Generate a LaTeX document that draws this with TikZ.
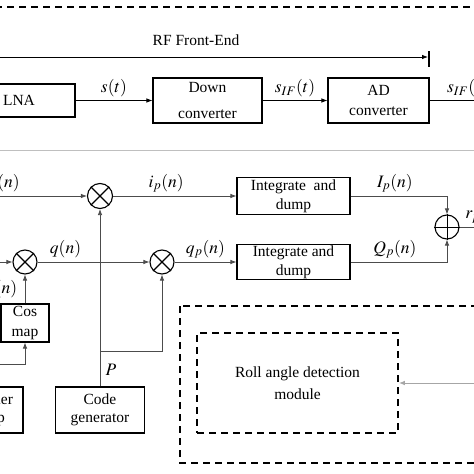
\RequirePackage{fix-cm}
\documentclass[tikz,border=0pt]{standalone}
\usepackage{amsmath}
\usepackage{mathptmx}
\usepackage{fontspec}
\setmainfont{Liberation Serif}
\usetikzlibrary{arrows.meta}

\begin{document}
\begin{tikzpicture}[x=1pt, y=-1pt,
  every node/.style={font=\fontsize{15.5}{19}\selectfont},
  sig/.style={font=\fontsize{17.5}{19}\selectfont},
  blk/.style={rectangle, draw=black, line width=1.1pt, align=center, inner sep=0pt},
  mult/.style={circle, draw=black, line width=1.1pt, minimum size=25pt, inner sep=0pt},
  arr/.style={-{Latex[length=6pt,width=4.5pt]}, draw=black!70, line width=0.8pt},
  ln/.style={draw=black!70, line width=0.8pt},
  dashbox/.style={draw=black, line width=1.6pt, dash pattern=on 7pt off 5pt}]

\clip (0,0) rectangle (474,474);
\fill[white] (0,0) rectangle (474,474);

% RF front-end
\draw[dashbox] (-5,7) -- (480,7);
\node (rf) at (196,40) {RF Front-End};
\coordinate (rfl) at (-5,57);
\coordinate (rfr) at (428,57);
\draw[arr, draw=black] (rfl) -- (rfr);
\draw[line width=1.1pt] (429,51) -- (429,67);

\node[blk, minimum width=112, minimum height=33] (lna) at (19,100.5) {LNA};
\node[blk, minimum width=109, minimum height=45, font=\fontsize{15.5}{26}\selectfont] (down) at (207.5,100.5) {Down\\converter};
\node[blk, minimum width=101, minimum height=45, font=\fontsize{15.5}{20}\selectfont] (ad) at (378.5,100.5) {AD\\converter};
\coordinate (adout) at (480,100.5);

\draw[arr, draw=black] (lna) -- node[sig, above] {$s(t)$} (down);
\draw[arr, draw=black] (down) -- node[sig, above] {$s_{IF}(t)$} (ad);
\draw[ln, draw=black] (ad) -- node[sig, pos=0.78, above] {$s_{IF}(n)$} (adout);

\draw[draw=black!25, line width=1pt] (-5,150) -- (480,150);

% correlator
\node[mult] (m1) at (100,196) {};
\node[mult, minimum size=24pt] (m2) at (25,262) {};
\node[mult, minimum size=24pt] (m3) at (162,262) {};
\node[mult, minimum size=24pt] (sum) at (447,227) {};
\foreach \m in {m1,m2,m3}
  \draw[line width=1.1pt] (\m.north west) -- (\m.south east) (\m.north east) -- (\m.south west);
\draw[line width=0.8pt] (sum.north) -- (sum.south) (sum.west) -- (sum.east);

\node[blk, minimum width=113, minimum height=37] (int1) at (293.5,196) {Integrate~ and\\dump};
\node[blk, minimum width=113, minimum height=35] (int2) at (293.5,262) {Integrate and\\dump};

\coordinate (iin) at (-5,196);
\coordinate (qin) at (-5,262);
\coordinate (sout) at (480,227);

\draw[arr] (iin) -- node[sig, pos=0.31, anchor=south east] {$s_{IF}(n)$} (m1);
\draw[arr] (m1) -- node[sig, pos=0.43, above] {$i_p(n)$} (int1);
\draw[arr] (int1) -| node[sig, pos=0.23, above] {$I_p(n)$} (sum);
\draw[arr] (qin) -- (m2);
\draw[arr] (m2) -- node[sig, pos=0.25, above] {$q(n)$} (m3);
\draw[arr] (m3) -- node[sig, above] {$q_p(n)$} (int2);
\draw[arr] (int2) -| node[sig, pos=0.23, above] {$Q_p(n)$} (sum);
\draw[ln] (sum) -- node[sig, pos=0.1, anchor=south west] {$r_p(n)$} (sout);

% carrier and code
\node[blk, minimum width=48, minimum height=38, font=\fontsize{15.5}{20}\selectfont] (cos) at (25,323) {Cos\\map};
\node[blk, minimum width=64, minimum height=46, font=\fontsize{15.5}{18}\selectfont] (nco) at (-9,410) {Carrier\\loop};
\node[blk, minimum width=89, minimum height=46, font=\fontsize{15.5}{18}\selectfont] (code) at (100,410) {Code\\generator};
\coordinate (cin) at (-5,364);
\coordinate (br) at (100,351);

\draw[arr] (cos) -- node[sig, left, xshift=-4pt] {$c(n)$} (m2);
\draw[arr] (cin) -| (cos);
\draw[arr] (code) -- node[sig, pos=0.095, right, xshift=2pt] {$P$} (m1);
\draw[arr] (br) -| (m3);

% roll angle detection
\draw[dashbox] (180,306) rectangle (490,463);
\node[blk, dashbox, minimum width=201, minimum height=100, font=\fontsize{15.5}{22}\selectfont] (roll) at (297.5,383) {Roll angle detection\\module};
\coordinate (rin) at (480,383);
\draw[arr, draw=black!35, line width=1pt] (rin) -- (roll);

\end{tikzpicture}
\end{document}
